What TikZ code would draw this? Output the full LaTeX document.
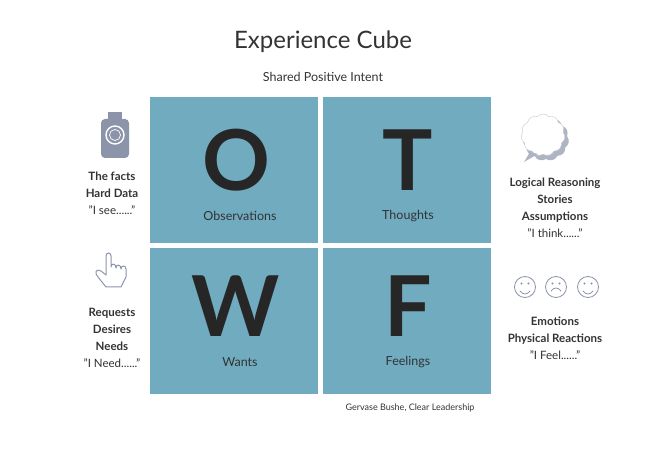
\documentclass[tikz,border=0pt]{standalone}
\usepackage{fontspec}
\setmainfont{Lato}
\usetikzlibrary{shapes.symbols}
\definecolor{cubeblue}{HTML}{70ABC0}
\definecolor{icongray}{HTML}{8C94AA}
\definecolor{txtgray}{HTML}{333333}

\begin{document}
\begin{tikzpicture}[x=1pt, y=-1pt, font={\fontsize{12}{14}\selectfont}, text=txtgray,
cell/.style={fill=cubeblue, draw=none, minimum width=168pt, minimum height=146pt, inner sep=0pt},
letter/.style={font={\fontsize{84}{84}\selectfont\bfseries}, text=black!85},
word/.style={font={\fontsize{12.5}{14}\selectfont}},
side/.style={align=center, font={\fontsize{11.5}{17}\selectfont}},
face/.style={draw=icongray, line width=0.8pt}]
\useasboundingbox (0,0) rectangle (665,449);

% title
\node (title) at (323,42) {\fontsize{24}{28}\selectfont Experience Cube};
\node (intent) at (323,77) {\fontsize{12.5}{14}\selectfont Shared Positive Intent};

% the four squares
\node[cell] (o) at (234,170) {};
\node[cell] (t) at (406.5,170) {};
\node[cell] (w) at (234,321.5) {};
\node[cell] (f) at (406.5,321.5) {};

\node[letter] at (236,160) {O};
\node[letter] at (408,160) {T};
\node[letter] at (236,306) {W};
\node[letter] at (408,306) {F};
\node[word] (ow) at (240,216) {Observations};
\node[word] (tw) at (408,216) {Thoughts};
\node[word] (ww) at (240,362) {Wants};
\node[word] (fw) at (408,362) {Feelings};

% side texts
\node[side] (facts) at (112,193) {\textbf{The facts}\\\textbf{Hard Data}\\"I see......"};
\node[side] (logic) at (555,208) {\textbf{Logical Reasoning}\\\textbf{Stories}\\\textbf{Assumptions}\\"I think......"};
\node[side] (needs) at (112,338) {\textbf{Requests}\\\textbf{Desires}\\\textbf{Needs}\\"I Need......"};
\node[side] (emo) at (555,338) {\textbf{Emotions}\\\textbf{Physical Reactions}\\"I Feel......"};

% camera
\fill[icongray] (108,112) rectangle (122,121);
\fill[icongray, rounded corners=4pt] (101,119) rectangle (129,158);
\draw[white, line width=1.4pt] (115,135) circle (9pt);
\draw[white, line width=0.7pt] (115,135) circle (5.5pt);

% thought bubble
\node[cloud, cloud puffs=11, cloud puff arc=100, fill=icongray!70, minimum width=46pt, minimum height=44pt] at (546,139) {};
\node[cloud, cloud puffs=11, cloud puff arc=100, fill=white, draw=icongray!50, minimum width=44pt, minimum height=42pt] at (543,135) {};
\fill[icongray!70] (530,152) -- (524,162) -- (538,154) -- cycle;

% hand
\draw[icongray, line width=1pt, line join=round]
  (106,256) -- (106,275) -- (101,271) .. controls (96,268) and (94,273) .. (98,277)
  -- (106,287) -- (121,287) -- (126,277) -- (126,269)
  .. controls (126,265) and (121,265) .. (121,269)
  .. controls (121,264) and (116,264) .. (116,268)
  .. controls (116,263) and (111,263) .. (111,267)
  -- (111,256) .. controls (111,252) and (106,252) .. (106,256);

% faces
\foreach \fx/\mood in {525/1, 556/-1, 588/1} {
  \draw[face] (\fx,287) circle (10.5pt);
  \fill[icongray] (\fx-3.5,283.5) circle (1.1pt) (\fx+3.5,283.5) circle (1.1pt);
  \draw[face] (\fx-5,291) .. controls (\fx-2,{291+\mood*4}) and (\fx+2,{291+\mood*4}) .. (\fx+5,291);
}

\node (credit) at (410,408) {\fontsize{9}{11}\selectfont Gervase Bushe, Clear Leadership};
\end{tikzpicture}
\end{document}
